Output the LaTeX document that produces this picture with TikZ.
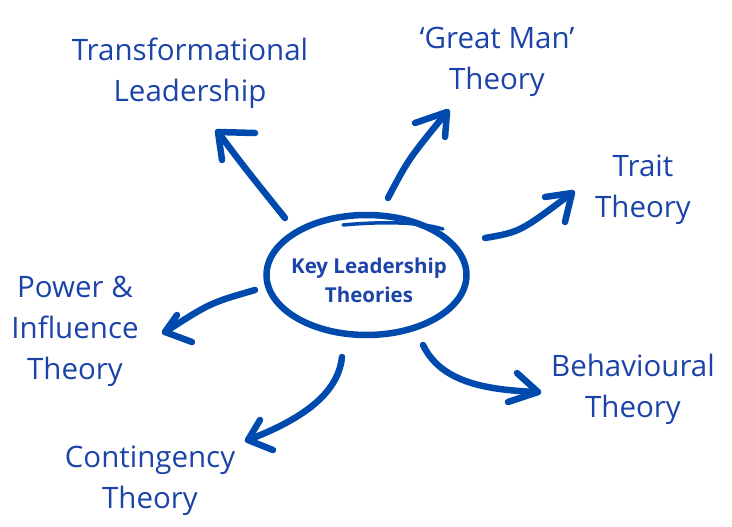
\documentclass[tikz,border=0pt]{standalone}
\usepackage{fontspec}
\setmainfont{Open Sans}
\definecolor{arrblue}{RGB}{0,74,173}
\definecolor{txtblue}{RGB}{28,68,168}
\tikzset{
  lbl/.style={text=txtblue, align=center, inner sep=0pt, font={\fontsize{29.5}{41}\selectfont}},
  ctr/.style={text=txtblue, align=center, inner sep=0pt, font={\bfseries\fontsize{20.5}{29}\selectfont}},
  arr/.style={draw=arrblue, line width=6.5pt, line cap=round, line join=round},
}
\begin{document}
\begin{tikzpicture}[x=1pt,y=-1pt]
\useasboundingbox (0,0) rectangle (732,527);
% centre
\draw[arrblue, line width=6.5pt] (366.5,275) ellipse [x radius=100, y radius=60];
\draw[arrblue, line width=3.5pt, line cap=round] (343,225) .. controls (375,222) and (415,221) .. (443,229);
\node[ctr] (center) at (369,280) {Key Leadership\\Theories};
% labels
\node[lbl] (transf) at (190,73) {Transformational\\Leadership};
\node[lbl] (great) at (497,62) {‘Great Man’\\Theory};
\node[lbl] (trait) at (643,190) {Trait\\Theory};
\node[lbl] (power) at (75,331) {Power \&\\Influence\\Theory};
\node[lbl] (conting) at (150,481) {Contingency\\Theory};
\node[lbl] (behav) at (633,389) {Behavioural\\Theory};
% arrow coordinates
\coordinate (s1) at (285,218); \coordinate (t1) at (218,132);
\coordinate (s2) at (388,198); \coordinate (t2) at (447,112);
\coordinate (s3) at (485,238); \coordinate (t3) at (572,193);
\coordinate (s4) at (423,345); \coordinate (t4) at (538,392);
\coordinate (s5) at (342,357); \coordinate (t5) at (248,440);
\coordinate (s6) at (255,290); \coordinate (t6) at (165,332);
% shafts
\draw[arr] (s1) .. controls (242.5,165) .. (t1);
\draw[arr] (s2) .. controls (408.5,159) .. (t2);
\draw[arr] (s3) .. controls (520,232) .. (t3);
\draw[arr] (s4) .. controls (440,380) and (480,390) .. (t4);
\draw[arr] (s5) .. controls (338,395) and (300,420) .. (t5);
\draw[arr] (s6) .. controls (210,303) .. (t6);
% heads
\draw[arr] (255,133) -- (t1) -- (222,160);
\draw[arr] (415,123) -- (t2) -- (445,137);
\draw[arr] (545,197) -- (t3) -- (565,222);
\draw[arr] (517,373) -- (t4) -- (508,402);
\draw[arr] (260,420) -- (t5) -- (273,450);
\draw[arr] (177,315) -- (t6) -- (192,342);
\end{tikzpicture}
\end{document}
